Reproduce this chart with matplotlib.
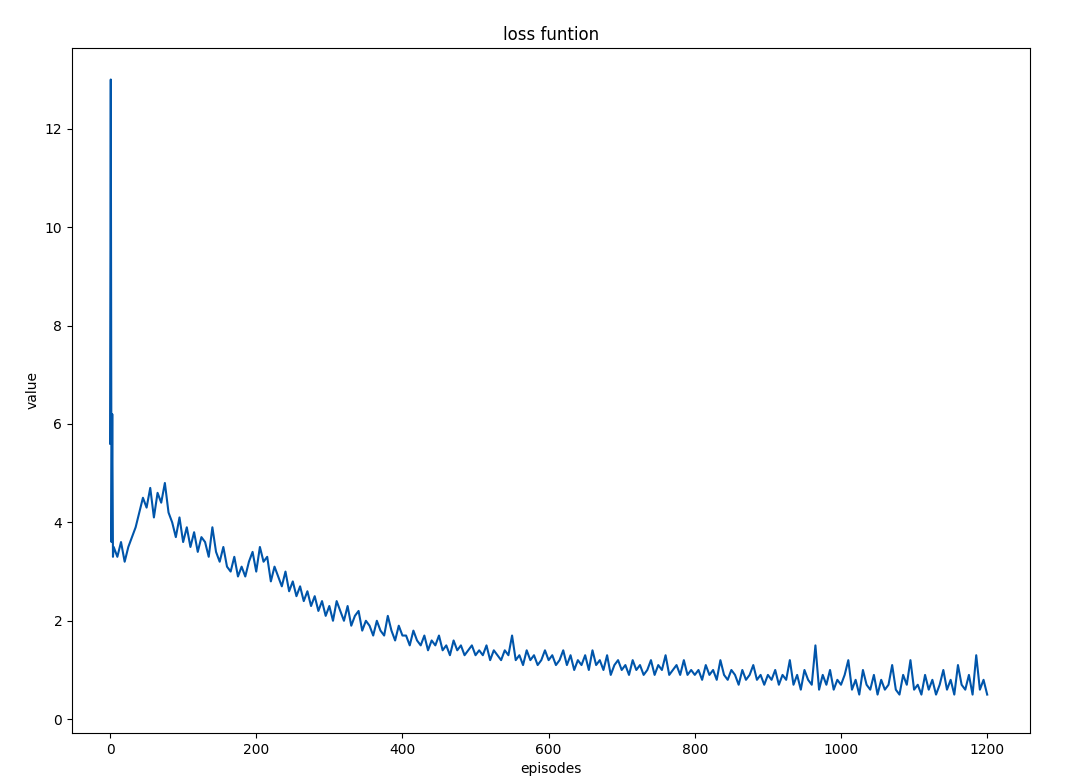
import matplotlib
matplotlib.use("Agg")
import matplotlib.pyplot as plt

early_episodes = [0, 1, 2, 3, 4]
early_values = [5.6, 13.0, 3.6, 6.2, 3.3]
later_episodes = list(range(5, 1201, 5))
later_values = [
    3.5,3.3,3.6,3.2,3.5,3.7,3.9,4.2,4.5,4.3,4.7,4.1,4.6,4.4,4.8,4.2,4.0,3.7,4.1,3.6,
    3.9,3.5,3.8,3.4,3.7,3.6,3.3,3.9,3.4,3.2,3.5,3.1,3.0,3.3,2.9,3.1,2.9,3.2,3.4,3.0,
    3.5,3.2,3.3,2.8,3.1,2.9,2.7,3.0,2.6,2.8,2.5,2.7,2.4,2.6,2.3,2.5,2.2,2.4,2.1,2.3,
    2.0,2.4,2.2,2.0,2.3,1.9,2.1,2.2,1.8,2.0,1.9,1.7,2.0,1.8,1.7,2.1,1.8,1.6,1.9,1.7,
    1.7,1.5,1.8,1.6,1.5,1.7,1.4,1.6,1.5,1.7,1.4,1.5,1.3,1.6,1.4,1.5,1.3,1.4,1.5,1.3,
    1.4,1.3,1.5,1.2,1.4,1.3,1.2,1.4,1.3,1.7,1.2,1.3,1.1,1.4,1.2,1.3,1.1,1.2,1.4,1.2,
    1.3,1.1,1.2,1.4,1.1,1.3,1.0,1.2,1.1,1.3,1.0,1.4,1.1,1.2,1.0,1.3,0.9,1.1,1.2,1.0,
    1.1,0.9,1.2,1.0,1.1,0.9,1.0,1.2,0.9,1.1,1.0,1.3,0.9,1.0,1.1,0.9,1.2,0.9,1.0,0.9,
    1.0,0.8,1.1,0.9,1.0,0.8,1.2,0.9,0.8,1.0,0.9,0.7,1.0,0.8,0.9,1.1,0.8,0.9,0.7,0.9,
    0.8,1.0,0.7,0.9,0.8,1.2,0.7,0.9,0.6,1.0,0.8,0.7,1.5,0.6,0.9,0.7,1.0,0.6,0.8,0.7,
    0.9,1.2,0.6,0.8,0.5,1.0,0.7,0.6,0.9,0.5,0.8,0.6,0.7,1.1,0.6,0.5,0.9,0.7,1.2,0.6,
    0.7,0.5,0.9,0.6,0.8,0.5,0.7,1.0,0.6,0.8,0.5,1.1,0.7,0.6,0.9,0.5,1.3,0.6,0.8,0.5,
]

x = early_episodes + later_episodes
y = early_values + later_values

fig = plt.figure(figsize=(10.8, 7.82), dpi=100)
ax = fig.add_axes([0.0667, 0.0627, 0.8873, 0.8759])
ax.plot(x, y, color="#0055aa", linewidth=1.5)
ax.set_xlim(-52, 1259)
ax.set_ylim(-0.28, 13.64)
ax.set_title("loss funtion")
ax.set_xlabel("episodes")
ax.set_ylabel("value")
fig.savefig("out.png", dpi=100)
